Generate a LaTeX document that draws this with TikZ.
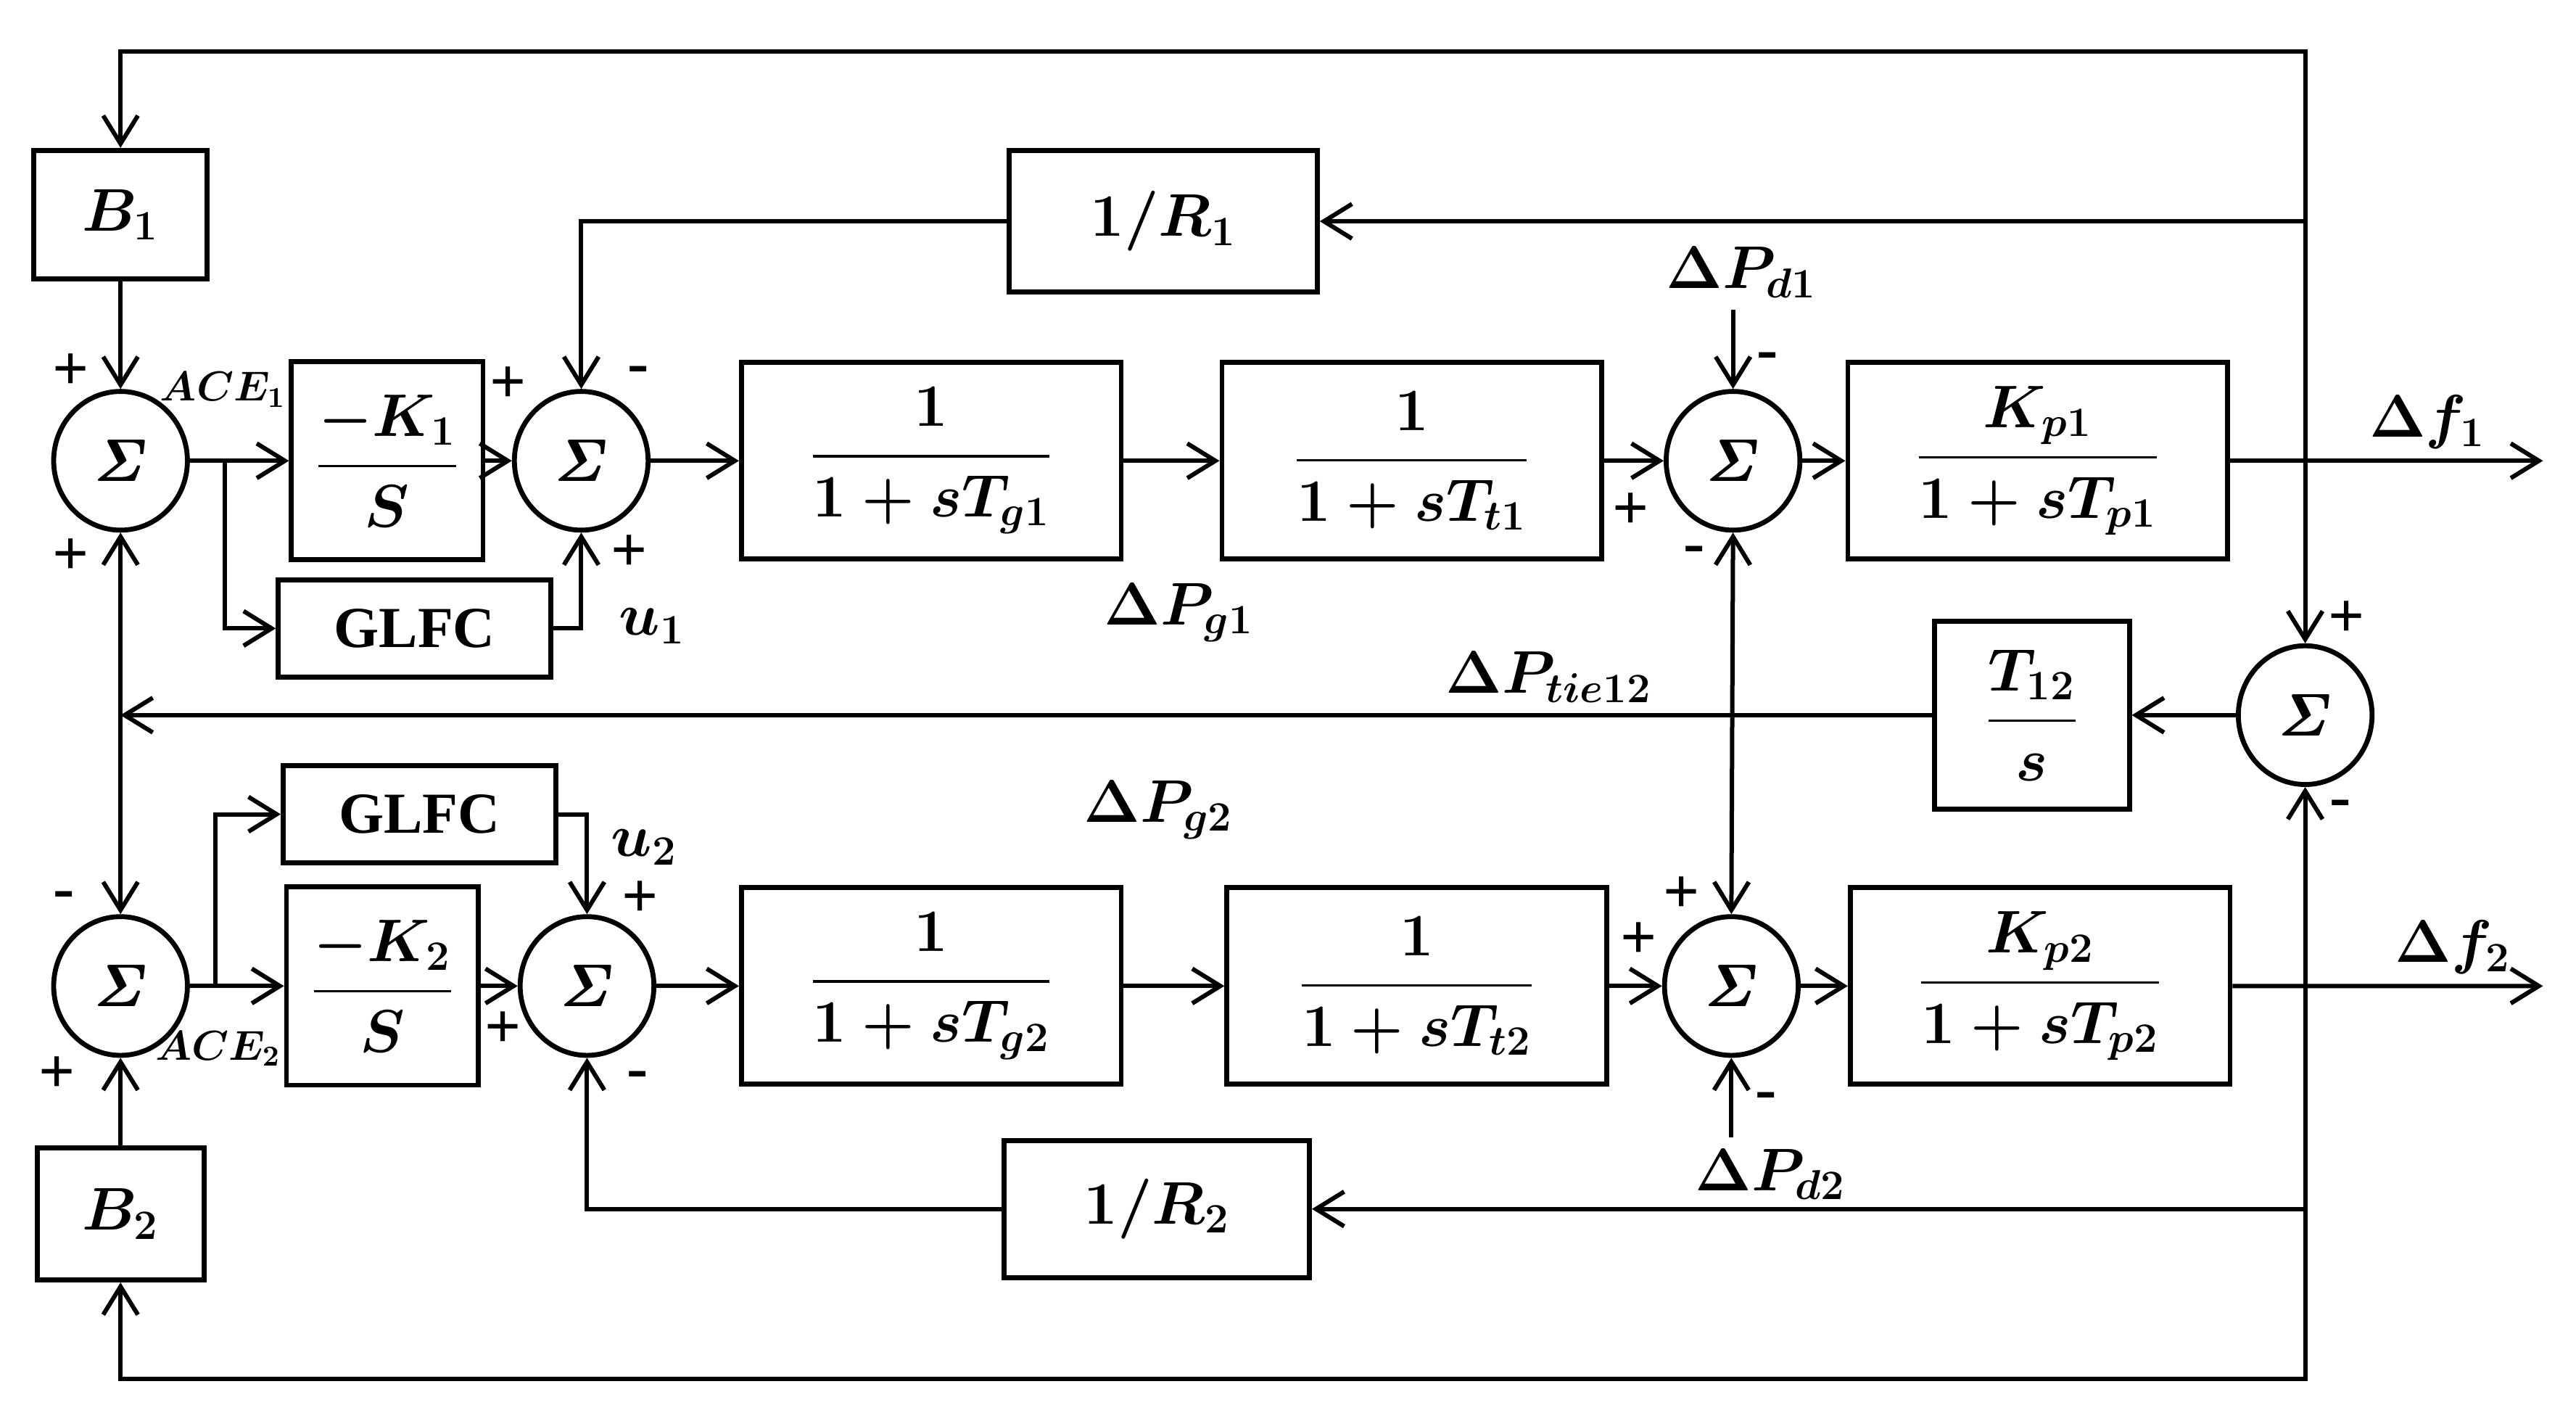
\documentclass[tikz,border=0pt]{standalone}
\usepackage{amsmath}
\usepackage[no-math]{fontspec}
\newfontfamily\glfcfont{Liberation Serif}
\DeclareMathSizes{20.74}{20.74}{14.4}{10}
\usetikzlibrary{positioning,shapes.geometric,arrows.meta}

\begin{document}
\begin{tikzpicture}[line width=1.5pt, >={Straight Barb[length=3.4mm,width=4.2mm]}]
  \tikzstyle{block} = [rectangle, draw, line width=1.7pt, font=\huge\boldmath, inner sep=0pt]
  \tikzstyle{smallblock} = [block, minimum width=2.32cm, minimum height=2.4cm]
  \tikzstyle{bigblock} = [block, minimum width=4.6cm, minimum height=2.38cm]
  \tikzstyle{glfc} = [block, minimum width=3.3cm, minimum height=1.18cm, font=\fontsize{20}{24}\selectfont\glfcfont\bfseries]
  \tikzstyle{sumnode} = [ellipse, draw, line width=1.7pt, minimum width=1.62cm, minimum height=1.68cm, inner sep=0pt, font=\huge\boldmath]
  \tikzstyle{sign} = [font=\fontsize{22}{26}\selectfont\glfcfont\bfseries]
  \tikzstyle{lbl} = [font=\huge\boldmath]
  \tikzstyle{ace} = [font=\Large\boldmath, inner sep=1pt]

  \useasboundingbox (0,0) rectangle (31.2,17.2);

  % area 1
  \node [sumnode] (s1) at (1.46,11.62) {$\mathit{\Sigma}$};
  \node [smallblock, right of=s1, node distance=3.23cm] (k1) {$\dfrac{-K_1}{S}$};
  \node [sumnode, right of=k1, node distance=2.35cm] (s2) {$\mathit{\Sigma}$};
  \node [bigblock, right of=s2, node distance=4.24cm] (gov1) {$\dfrac{1}{1+sT_{g1}}$};
  \node [bigblock, right of=gov1, node distance=5.82cm] (turb1) {$\dfrac{1}{1+sT_{t1}}$};
  \node [sumnode, right of=turb1, node distance=3.89cm] (s3) {$\mathit{\Sigma}$};
  \node [bigblock, right of=s3, node distance=3.69cm] (kp1) {$\dfrac{K_{p1}}{1+sT_{p1}}$};
  \node [block, minimum width=2.1cm, minimum height=1.56cm, above of=s1, node distance=2.98cm] (b1) {$B_1$};
  \node [glfc] (glfc1) at (5.02,9.59) {GLFC};
  \node [block, minimum width=3.73cm, minimum height=1.71cm] (r1) at (14.09,14.52) {$1/R_1$};

  % area 2
  \node [sumnode, below of=s1, node distance=6.36cm] (s5) {$\mathit{\Sigma}$};
  \node [smallblock, right of=s5, node distance=3.17cm] (k2) {$\dfrac{-K_2}{S}$};
  \node [sumnode, right of=k2, node distance=2.48cm] (s6) {$\mathit{\Sigma}$};
  \node [bigblock, right of=s6, node distance=4.17cm] (gov2) {$\dfrac{1}{1+sT_{g2}}$};
  \node [bigblock, right of=gov2, node distance=5.88cm] (turb2) {$\dfrac{1}{1+sT_{t2}}$};
  \node [sumnode, right of=turb2, node distance=3.81cm] (s7) {$\mathit{\Sigma}$};
  \node [bigblock, right of=s7, node distance=3.74cm] (kp2) {$\dfrac{K_{p2}}{1+sT_{p2}}$};
  \node [block, minimum width=2.02cm, minimum height=1.6cm, below of=s5, node distance=2.76cm] (b2) {$B_2$};
  \node [glfc] (glfc2) at (5.08,7.34) {GLFC};
  \node [block, minimum width=3.7cm, minimum height=1.66cm] (r2) at (14.01,2.56) {$1/R_2$};

  % tie line
  \node [sumnode] (s4) at (27.92,8.54) {$\mathit{\Sigma}$};
  \node [smallblock, minimum width=2.36cm, minimum height=2.28cm, left of=s4, node distance=3.31cm] (t12) {$\dfrac{T_{12}}{s}$};

  % signal labels
  \node [lbl] (pg1) at (14.28,9.78) {$\Delta P_{g1}$};
  \node [lbl] (pg2) at (14.03,7.39) {$\Delta P_{g2}$};
  \node [lbl] (ptie) at (18.76,9.0) {$\Delta P_{tie12}$};
  \node [lbl, above of=s3, node distance=2.28cm, xshift=0.1cm] (pd1) {$\Delta P_{d1}$};
  \node [lbl, below of=s7, node distance=2.28cm, xshift=0.47cm] (pd2) {$\Delta P_{d2}$};
  \node [ace] (ace1) at ([shift={(1.24,0.86)}]s1) {$ACE_1$};
  \node [ace] (ace2) at ([shift={(1.18,-0.76)}]s5) {$ACE_2$};
  \node [lbl] (u1) at ([shift={(0.86,-2.0)}]s2) {$u_1$};
  \node [lbl] (u2) at ([shift={(0.69,1.68)}]s6) {$u_2$};

  % signs at the summing points
  \node [sign] (s1a) at ([shift={(-0.6,1.08)}]s1) {+};
  \node [sign] (s1b) at ([shift={(-0.6,-1.16)}]s1) {+};
  \node [sign] (s2a) at ([shift={(-0.89,0.92)}]s2) {+};
  \node [sign] (s2b) at ([shift={(0.69,1.04)}]s2) {-};
  \node [sign] (s2c) at ([shift={(0.58,-1.12)}]s2) {+};
  \node [sign] (s3a) at ([shift={(0.42,1.2)}]s3) {-};
  \node [sign] (s3b) at ([shift={(-1.24,-0.61)}]s3) {+};
  \node [sign] (s3c) at ([shift={(-0.47,-1.14)}]s3) {-};
  \node [sign] (s4a) at ([shift={(0.5,1.16)}]s4) {+};
  \node [sign] (s4b) at ([shift={(0.43,-1.14)}]s4) {-};
  \node [sign] (s5a) at ([shift={(-0.69,1.04)}]s5) {-};
  \node [sign] (s5b) at ([shift={(-0.77,-1.07)}]s5) {+};
  \node [sign] (s6a) at ([shift={(0.64,1.05)}]s6) {+};
  \node [sign] (s6b) at ([shift={(-1.02,-0.53)}]s6) {+};
  \node [sign] (s6c) at ([shift={(0.61,-1.14)}]s6) {-};
  \node [sign] (s7a) at ([shift={(-0.6,1.1)}]s7) {+};
  \node [sign] (s7b) at ([shift={(-1.12,0.55)}]s7) {+};
  \node [sign] (s7c) at ([shift={(0.42,-1.4)}]s7) {-};

  \coordinate (br1) at (2.72,11.62);
  \coordinate (br2) at (2.61,5.26);
  \coordinate (df1) at (30.8,11.62);
  \coordinate (df2) at (30.8,5.26);
  \coordinate (top) at (27.92,16.58);
  \coordinate (bot) at (27.92,0.5);

  % area 1 connectors
  \draw[->] (b1) -- (s1);
  \draw[->] (s1) -- (k1);
  \draw[->] (br1) |- (glfc1.west);
  \draw[->] (k1) -- (s2);
  \draw[->] (glfc1.east) -| (s2.south);
  \draw[->] (r1.west) -| (s2.north);
  \draw[->] (s2) -- (gov1);
  \draw[->] (gov1) -- (turb1);
  \draw[->] (turb1) -- (s3);
  \draw[->] (s3) -- (kp1);
  \draw[->] (s3 |- pd1.south) -- (s3.north);
  \draw[->] (kp1.east) -- (df1) node[lbl, pos=0.63, above] {$\Delta f_1$};

  % area 2 connectors
  \draw[->] (b2) -- (s5);
  \draw[->] (s5) -- (k2);
  \draw[->] (br2) |- (glfc2.west);
  \draw[->] (k2) -- (s6);
  \draw[->] (glfc2.east) -| (s6.north);
  \draw[->] (r2.west) -| (s6.south);
  \draw[->] (s6) -- (gov2);
  \draw[->] (gov2) -- (turb2);
  \draw[->] (turb2) -- (s7);
  \draw[->] (s7) -- (kp2);
  \draw[->] (s7 |- pd2.north) -- (s7.south);
  \draw[->] (kp2.east) -- (df2) node[lbl, pos=0.71, above] {$\Delta f_2$};

  % frequency feedback and tie line
  \draw[->] (kp1.east -| s4) -- (s4.north);
  \draw[->] (kp1.east -| s4) -- (top) -| (b1.north);
  \draw[->] (r1.east -| s4) -- (r1.east);
  \draw[->] (kp2.east -| s4) -- (s4.south);
  \draw[->] (kp2.east -| s4) -- (bot) -| (b2.south);
  \draw[->] (r2.east -| s4) -- (r2.east);
  \draw[->] (s4) -- (t12);
  \draw[->] (t12.west) -- (t12.west -| s1);
  \draw[<->] (s1.south) -- (s5.north);
  \draw[<->] (s3.south) -- (s7.north);
\end{tikzpicture}
\end{document}
